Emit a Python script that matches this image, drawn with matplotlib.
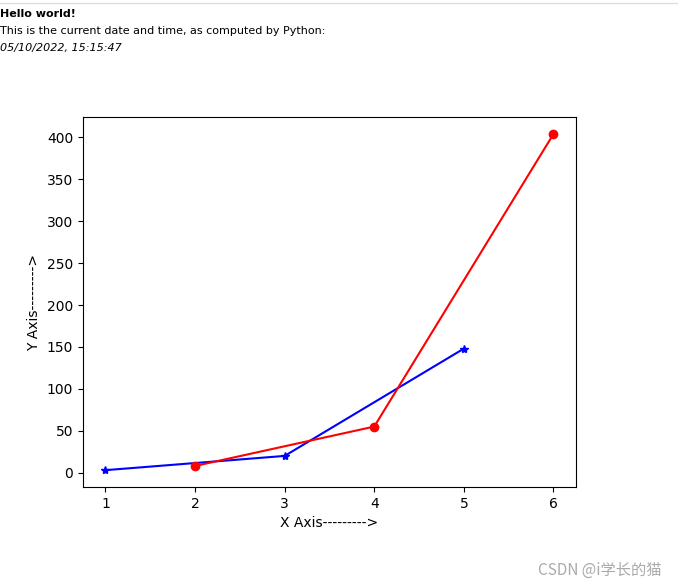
import matplotlib
matplotlib.use("Agg")
import matplotlib.pyplot as plt

blue_x = [1, 3, 5]
blue_y = [3, 20, 148]
red_x = [2, 4, 6]
red_y = [8, 55, 404]

fig = plt.figure(figsize=(6.78, 5.87), dpi=100)

# page header text
fig.text(0.0, 0.985, "Hello world!", fontsize=8, fontweight="bold", va="top")
fig.text(0.0, 0.955, "This is the current date and time, as computed by Python:", fontsize=8, va="top")
fig.text(0.0, 0.927, "05/10/2022, 15:15:47", fontsize=8, style="italic", va="top")
fig.add_artist(plt.Line2D([0, 1], [0.995, 0.995], color="#dddddd", lw=1))

ax = fig.add_axes([0.1224, 0.1704, 0.727, 0.630])
ax.plot(blue_x, blue_y, color="blue", marker="*")
ax.plot(red_x, red_y, color="red", marker="o")
ax.set_xlabel("X Axis--------->")
ax.set_ylabel("Y Axis--------->")

fig.text(0.975, 0.02, "CSDN @i学长的猫", fontsize=11, color="#aaaaaa", ha="right",
         family=["Noto Sans CJK SC", "DejaVu Sans"])

fig.savefig("out.png", dpi=100)
